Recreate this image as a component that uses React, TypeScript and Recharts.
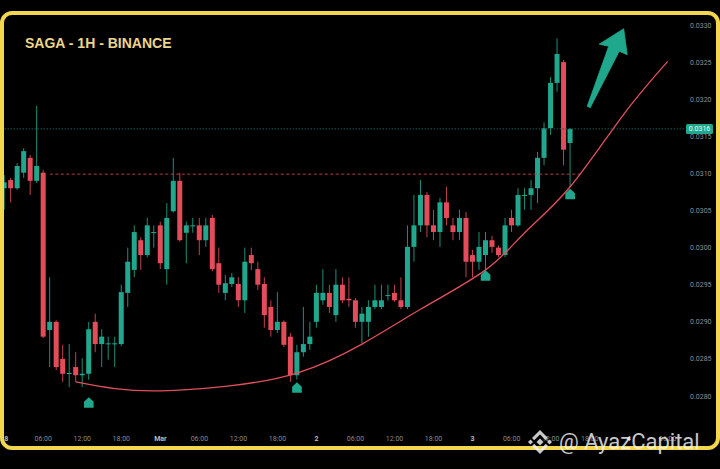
import { ComposedChart, Bar, Line, XAxis, YAxis, ReferenceLine } from "recharts";

// SAGA/USDT 1H candles, Feb 28 00:00 -> Mar 3 15:00
const opens = [
  0.0308, 0.03091, 0.0308, 0.03101, 0.03121, 0.0309, 0.03101, 0.02889, 0.029, 0.0285,
  0.0283, 0.02839, 0.02828, 0.0283, 0.029, 0.0287, 0.0287, 0.0287, 0.0287, 0.02939,
  0.0297, 0.0301, 0.0299, 0.0302, 0.0303, 0.02971, 0.03049, 0.0309, 0.0302, 0.03029,
  0.0303, 0.0301, 0.0304, 0.02979, 0.02939, 0.02951, 0.02951, 0.02929, 0.0299, 0.02971,
  0.02951, 0.0292, 0.02889, 0.029, 0.0288, 0.02828, 0.02859, 0.0287, 0.029, 0.02929,
  0.02939, 0.02909, 0.0295, 0.02931, 0.02929, 0.029, 0.029, 0.0292, 0.0292, 0.02935,
  0.02939, 0.02929, 0.0292, 0.03001, 0.0303, 0.03071, 0.0303, 0.03021, 0.03061, 0.0303,
  0.03021, 0.0304, 0.0299, 0.02981, 0.0299, 0.0301, 0.03, 0.0299, 0.0304, 0.0303,
  0.0307, 0.03071, 0.0308, 0.03121, 0.03161, 0.03222, 0.0325, 0.03141,
];
const highs = [
  0.03098, 0.03094, 0.03114, 0.03134, 0.03125, 0.03191, 0.03105, 0.0296, 0.02902, 0.02869,
  0.0287, 0.02859, 0.02851, 0.029, 0.02911, 0.0289, 0.0288, 0.0288, 0.0295, 0.03,
  0.0303, 0.03014, 0.0304, 0.0303, 0.03035, 0.0306, 0.03121, 0.03101, 0.03035, 0.0304,
  0.0304, 0.0304, 0.03044, 0.03, 0.02963, 0.02966, 0.0296, 0.03, 0.03, 0.02981,
  0.0296, 0.02929, 0.0294, 0.02902, 0.02885, 0.02869, 0.0292, 0.029, 0.0295, 0.02971,
  0.0295, 0.02971, 0.0296, 0.0296, 0.02932, 0.0292, 0.02929, 0.0295, 0.0295, 0.0295,
  0.0295, 0.0296, 0.0303, 0.03071, 0.03091, 0.03075, 0.03051, 0.03067, 0.03082, 0.0304,
  0.03051, 0.03048, 0.02997, 0.03021, 0.03021, 0.03016, 0.03003, 0.0304, 0.03051, 0.0308,
  0.0308, 0.03091, 0.03129, 0.03169, 0.0323, 0.03282, 0.03253, 0.03161,
];
const lows = [
  0.03051, 0.03061, 0.03078, 0.03094, 0.03071, 0.03087, 0.02878, 0.02839, 0.02835, 0.02819,
  0.02812, 0.02819, 0.02812, 0.02822, 0.02859, 0.02839, 0.02849, 0.02839, 0.02867, 0.0292,
  0.0296, 0.0297, 0.02987, 0.03, 0.02971, 0.0295, 0.03047, 0.03008, 0.02979, 0.0302,
  0.0299, 0.03001, 0.02968, 0.02939, 0.02929, 0.02947, 0.0292, 0.02912, 0.0297, 0.02943,
  0.02892, 0.0288, 0.02885, 0.02866, 0.02819, 0.02822, 0.02853, 0.02862, 0.02892, 0.02923,
  0.02912, 0.029, 0.02925, 0.0292, 0.02892, 0.02871, 0.0288, 0.02917, 0.02917, 0.02929,
  0.02927, 0.02917, 0.02917, 0.02981, 0.03021, 0.03014, 0.0301, 0.03001, 0.0303, 0.0301,
  0.0301, 0.0296, 0.0296, 0.0297, 0.0297, 0.02993, 0.02987, 0.02987, 0.03021, 0.03028,
  0.03051, 0.03051, 0.0306, 0.03111, 0.03152, 0.0321, 0.03111, 0.03082,
];
const closes = [
  0.03088, 0.0308, 0.0311, 0.0313, 0.0309, 0.0311, 0.0288, 0.029, 0.02839, 0.0283,
  0.02831, 0.02828, 0.0283, 0.0289, 0.0287, 0.0288, 0.02871, 0.02871, 0.0294, 0.02981,
  0.03021, 0.0299, 0.0303, 0.03021, 0.02979, 0.0304, 0.0309, 0.0301, 0.0303, 0.0303,
  0.0301, 0.0303, 0.02971, 0.0295, 0.02952, 0.0296, 0.02929, 0.02981, 0.02979, 0.0295,
  0.02909, 0.02889, 0.029, 0.02869, 0.02828, 0.02859, 0.0287, 0.0288, 0.02939, 0.02939,
  0.0292, 0.0295, 0.02929, 0.02929, 0.029, 0.02911, 0.0292, 0.02929, 0.02929, 0.02936,
  0.02929, 0.0292, 0.03001, 0.0303, 0.03071, 0.0303, 0.03021, 0.03061, 0.0304, 0.03021,
  0.0304, 0.02981, 0.02981, 0.03001, 0.0301, 0.03001, 0.0299, 0.0303, 0.0303, 0.03071,
  0.03071, 0.0308, 0.03121, 0.03161, 0.03222, 0.03261, 0.03132, 0.0316,
];

// x axis: one slot per hour, the chart keeps empty room on the right
const SLOTS = 105;
const xTickIdx = [0, 6, 12, 18, 24, 30, 36, 42, 48, 54, 60, 66, 72, 78, 84, 90, 96, 102];
const xTickText = [
  "28", "06:00", "12:00", "18:00", "Mar", "06:00", "12:00", "18:00", "2",
  "06:00", "12:00", "18:00", "3", "06:00", "12:00", "18:00", "4", "06:00",
];
const yTicks = [0.028, 0.0285, 0.029, 0.0295, 0.03, 0.0305, 0.031, 0.0315, 0.032, 0.0325, 0.033];

// hand-drawn rounding bottom curve (anchor points)
const curveIdx = [11, 17, 24, 34, 45, 55, 64, 74, 80, 87, 95, 102];
const curvePrice = [0.02819, 0.0281, 0.02807, 0.02813, 0.02831, 0.0287, 0.02917, 0.0297, 0.0302, 0.03082, 0.03177, 0.03251];

// little up markers under the bounces
const markIdx = [13, 45, 74, 87];
const markPrice = [0.02791, 0.02811, 0.02962, 0.03072];

// big arrow tip
const arrowIdx = 95;
const arrowPrice = 0.03295;

const resistance = 0.03099;
const lastPrice = 0.0316;

const GREEN = "#22a78f";
const RED = "#e44c5b";

const rows = Array.from({ length: SLOTS }, (_, i) => {
  const has = i < opens.length;
  const ci = curveIdx.indexOf(i);
  const mi = markIdx.indexOf(i);
  return {
    i,
    o: has ? opens[i] : null,
    h: has ? highs[i] : null,
    l: has ? lows[i] : null,
    c: has ? closes[i] : null,
    range: has ? [lows[i], highs[i]] : null,
    curve: ci >= 0 ? curvePrice[ci] : null,
    mark: mi >= 0 ? markPrice[mi] : null,
    arrow: i === arrowIdx ? arrowPrice : null,
  };
});

function Candle(props: any) {
  const { x, y, width, height, payload } = props;
  if (!payload || payload.o == null) return <g />;
  const { o, h, l, c } = payload;
  const top = Math.min(y, y + height);
  const span = Math.abs(height);
  const per = h > l ? span / (h - l) : 0;
  const yOf = (v: number) => top + (h - v) * per;
  const color = c >= o ? GREEN : RED;
  const cx = x + width / 2;
  const bw = 5;
  const bodyTop = yOf(Math.max(o, c));
  const bodyH = Math.max(1, Math.abs(yOf(o) - yOf(c)));
  return (
    <g>
      <line x1={cx} x2={cx} y1={top} y2={top + span} stroke={color} strokeOpacity={0.85} strokeWidth={1} />
      <rect x={cx - bw / 2} y={bodyTop} width={bw} height={bodyH} fill={color} />
    </g>
  );
}

function Marker(props: any) {
  const { cx, cy, value } = props;
  if (value == null || cx == null || cy == null) return <g key={props.key} />;
  return (
    <polygon
      key={props.key}
      points={`${cx},${cy - 5.5} ${cx + 4.8},${cy - 1} ${cx + 4.8},${cy + 5} ${cx - 4.8},${cy + 5} ${cx - 4.8},${cy - 1}`}
      fill={GREEN}
    />
  );
}

function BigArrow(props: any) {
  const { cx, cy, value } = props;
  if (value == null || cx == null || cy == null) return <g key={props.key} />;
  const tx = cx + 1.5;
  const pts = [
    [0, 0],
    [3.5, 26],
    [-4.5, 22.5],
    [-33.5, 79],
    [-36.5, 77.5],
    [-15, 17.5],
    [-24.5, 15.5],
  ]
    .map(([dx, dy]) => `${tx + dx},${cy + dy}`)
    .join(" ");
  return <polygon key={props.key} points={pts} fill="#1fa88c" strokeLinejoin="round" stroke="#1fa88c" strokeWidth={0.8} />;
}

function XTick(props: any) {
  const { x, y, payload } = props;
  const k = xTickIdx.indexOf(payload.value);
  const label = k >= 0 ? xTickText[k] : "";
  const isDay = !label.includes(":");
  return (
    <text
      x={x}
      y={y + 10.5}
      textAnchor="middle"
      fill={isDay ? "#bdbdbd" : "#8a8a8a"}
      fontSize={7}
      fontWeight={isDay ? 700 : 400}
      fontFamily="Roboto, sans-serif"
    >
      {label}
    </text>
  );
}

function PriceTag(props: any) {
  const vb = props.viewBox || {};
  const x = (vb.x ?? 0) + (vb.width ?? 0) + 2;
  const y = vb.y ?? 0;
  return (
    <g>
      <rect x={x} y={y - 5} width={27} height={10} rx={1.5} fill={GREEN} />
      <text x={x + 13.5} y={y + 2.5} textAnchor="middle" fontSize={7} fill="#e8fff8" fontFamily="Roboto, sans-serif">
        {lastPrice.toFixed(4)}
      </text>
    </g>
  );
}

export default function App() {
  return (
    <div
      style={{
        position: "fixed",
        left: 0,
        top: 0,
        width: 720,
        height: 469,
        background: "#000",
        overflow: "hidden",
      }}
    >
      <div style={{ position: "absolute", left: 0, top: 0 }}>
        <ComposedChart width={720} height={469} data={rows} margin={{ top: 15, right: 0, bottom: 0, left: 1 }}>
          <XAxis
            dataKey="i"
            type="category"
            ticks={xTickIdx}
            interval={0}
            height={39}
            axisLine={false}
            tickLine={false}
            tickSize={0}
            tickMargin={0}
            tick={<XTick />}
          />
          <YAxis
            orientation="right"
            width={36}
            domain={[0.027542, 0.033135]}
            allowDataOverflow
            ticks={yTicks}
            tickFormatter={(v: number) => v.toFixed(4)}
            axisLine={false}
            tickLine={false}
            tickSize={0}
            tickMargin={6}
            tick={{ fill: "#8f8f8f", fontSize: 7, fontFamily: "Roboto, sans-serif" }}
          />
          <ReferenceLine
            segment={[
              { x: 7, y: resistance },
              { x: 89, y: resistance },
            ]}
            stroke="#b23b48"
            strokeDasharray="3 2.5"
            strokeWidth={1}
          />
          <ReferenceLine
            y={lastPrice}
            stroke="#1e5a52"
            strokeDasharray="1.5 1.5"
            strokeWidth={1}
            label={<PriceTag />}
          />
          <Bar dataKey="range" shape={<Candle />} isAnimationActive={false} />
          <Line
            dataKey="curve"
            type="natural"
            connectNulls
            dot={false}
            activeDot={false}
            stroke="#e0505c"
            strokeWidth={1.3}
            isAnimationActive={false}
          />
          <Line dataKey="mark" stroke="none" dot={Marker} activeDot={false} isAnimationActive={false} />
          <Line dataKey="arrow" stroke="none" dot={BigArrow} activeDot={false} isAnimationActive={false} />
        </ComposedChart>
      </div>

      <div
        style={{
          position: "absolute",
          left: 25,
          top: 36,
          fontFamily: "'Liberation Sans', Arial, sans-serif",
          fontWeight: 700,
          fontSize: 14,
          lineHeight: "14px",
          color: "#ecd68a",
          whiteSpace: "nowrap",
        }}
      >
        SAGA - 1H - BINANCE
      </div>

      <div
        style={{
          position: "absolute",
          left: 0,
          top: 11,
          width: 720,
          height: 439,
          border: "4px solid #f2d64e",
          borderRadius: 12,
          boxSizing: "border-box",
          pointerEvents: "none",
        }}
      />

      <svg
        width={28}
        height={30}
        style={{ position: "absolute", left: 526, top: 427, opacity: 0.82 }}
        viewBox="0 0 28 30"
      >
        <g fill="#f4f4f4">
          <polygon points="14,11.5 17.5,15 14,18.5 10.5,15" />
          <polygon points="4.5,12.5 7,15 4.5,17.5 2,15" />
          <polygon points="23.5,12.5 26,15 23.5,17.5 21,15" />
          <polygon points="14,3 22,11 19.8,13.2 14,7.4 8.2,13.2 6,11" />
          <polygon points="14,27 22,19 19.8,16.8 14,22.6 8.2,16.8 6,19" />
        </g>
      </svg>
      <div
        style={{
          position: "absolute",
          left: 559,
          top: 431,
          fontFamily: "Roboto, sans-serif",
          fontSize: 22,
          lineHeight: "22px",
          color: "rgba(245,245,245,0.82)",
          whiteSpace: "nowrap",
        }}
      >
        @ AyazCapital
      </div>
    </div>
  );
}
